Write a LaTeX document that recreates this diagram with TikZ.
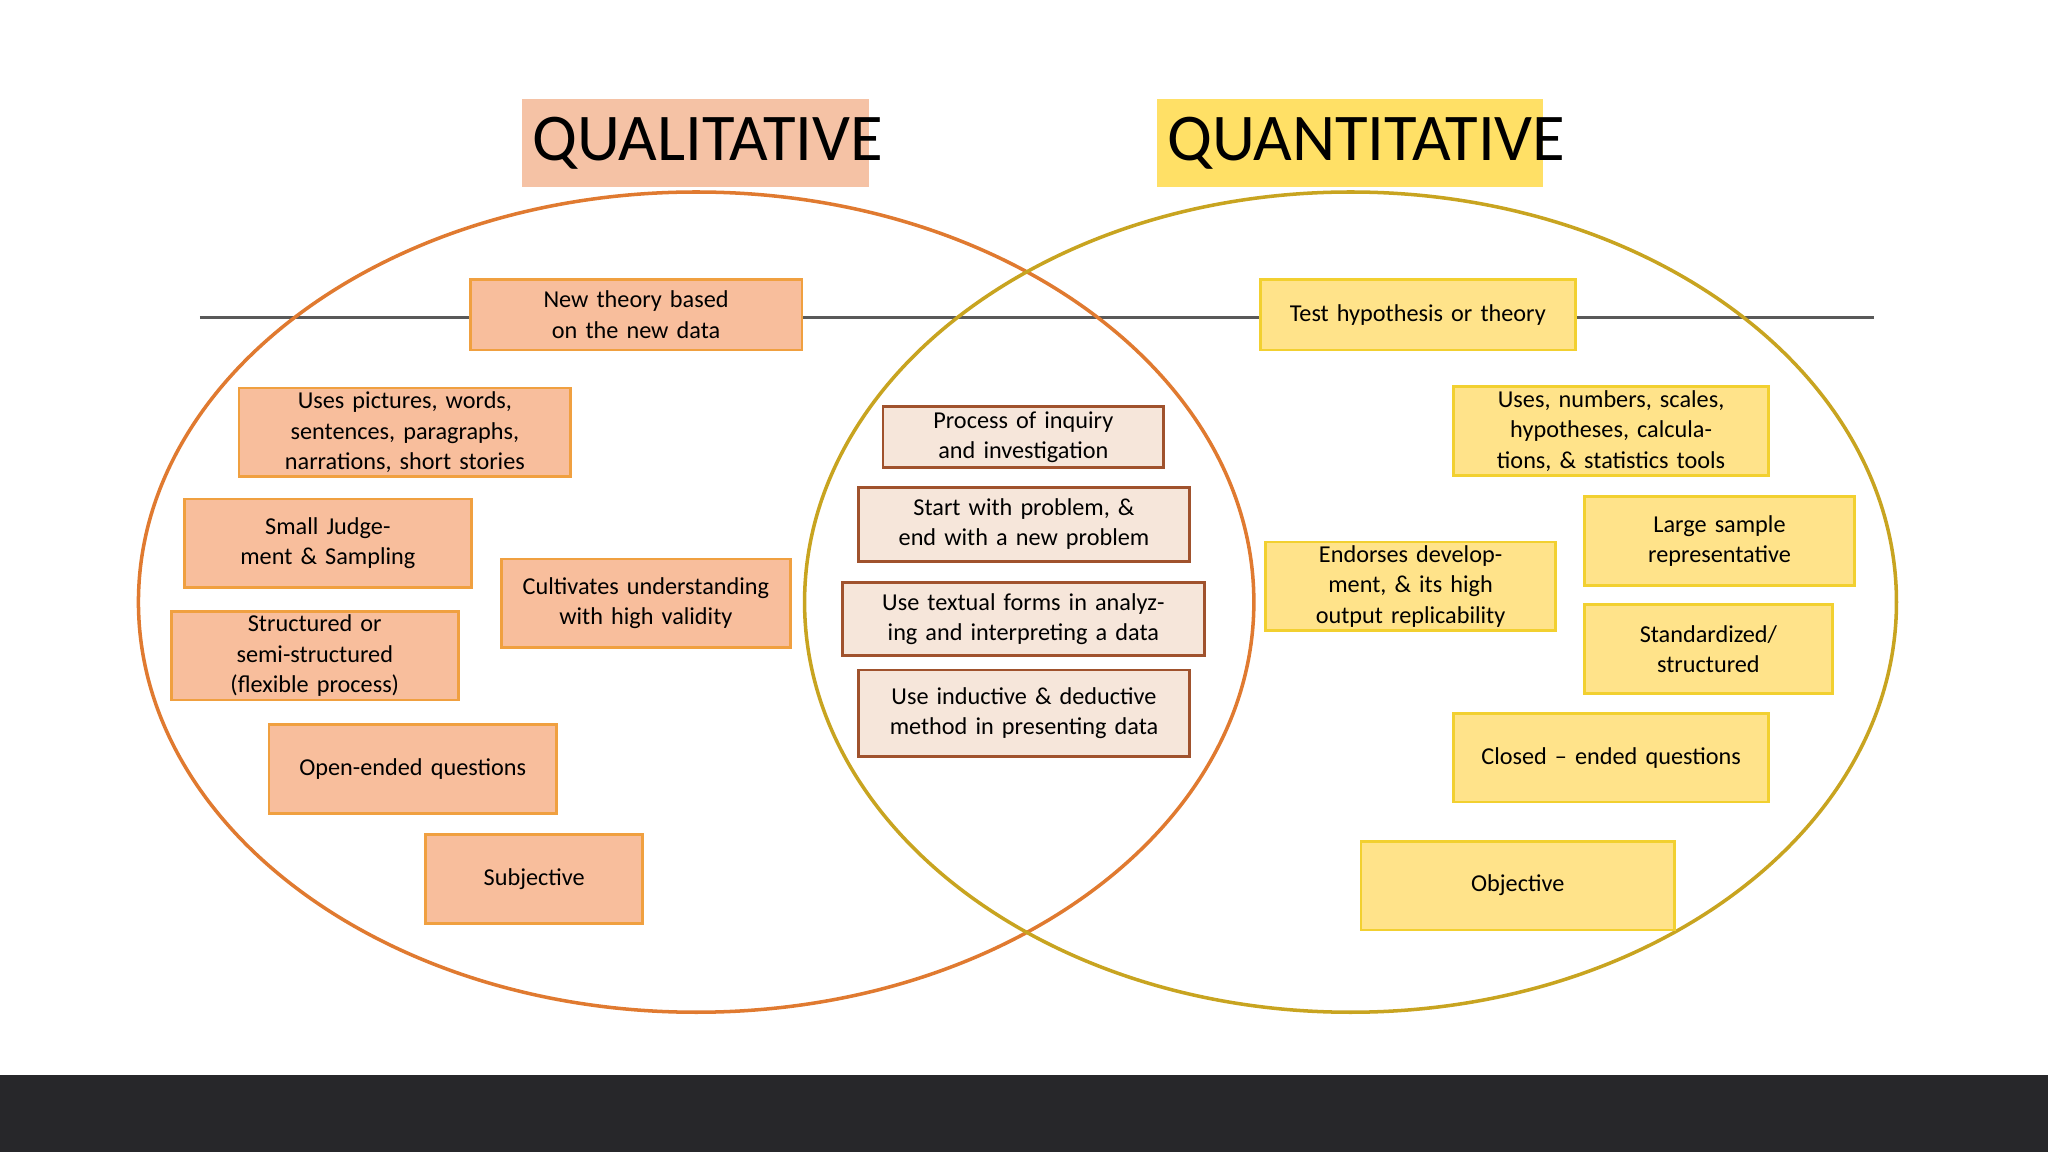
\documentclass[tikz,border=0pt]{standalone}
\usepackage{fontspec}
\setmainfont{Carlito}
\definecolor{qlfill}{HTML}{F8BE9C}
\definecolor{qlborder}{HTML}{F0A040}
\definecolor{midfill}{HTML}{F6E6DA}
\definecolor{midborder}{HTML}{A0522D}
\definecolor{qnfill}{HTML}{FFE38A}
\definecolor{qnborder}{HTML}{F2D030}
\definecolor{lell}{HTML}{E07A30}
\definecolor{rell}{HTML}{C8A420}
\definecolor{tlfill}{HTML}{F5C2A5}
\definecolor{tqfill}{HTML}{FFE066}
\definecolor{barc}{HTML}{27272A}
\newcommand{\bx}[7]{\node[#2, minimum width={(#5-#3)*0.013061cm}, minimum height={(#6-#4)*0.013061cm}, text width={(#5-#3)*0.013061cm-0.2cm}] (#1) at ({(#3+#5)/2},{(#4+#6)/2}) {#7};}
\tikzset{
 base/.style={draw, line width=0.8pt, align=center, inner sep=1pt, font=\fontsize{6.9pt}{8.6pt}\selectfont},
 lbox/.style={base, fill=qlfill, draw=qlborder},
 mbox/.style={base, fill=midfill, draw=midborder},
 rbox/.style={base, fill=qnfill, draw=qnborder},
 title/.style={inner sep=0pt, align=center, font=\fontsize{19pt}{20pt}\selectfont, text=black}
}
\begin{document}
\begin{tikzpicture}[x=0.013061cm,y=-0.013061cm]
\useasboundingbox (0,0) rectangle (1568,882);
\fill[white] (0,0) rectangle (1568,882);
\fill[barc] (0,823) rectangle (1568,882);
\draw[gray!70!black, line width=0.7pt] (153,243) coordinate (la) -- (1435,243) coordinate (lb);
\draw[lell, line width=1pt] (533,461) ellipse [x radius=427, y radius=314];
\draw[rell, line width=1pt] (1034,461) ellipse [x radius=418, y radius=314];
\bx{tql}{title, fill=tlfill}{400}{76}{665}{143}{QUALITATIVE}
\bx{tqn}{title, fill=tqfill}{886}{76}{1181}{143}{QUANTITATIVE}
\bx{l1}{lbox}{360}{214}{614}{268}{New theory based on the new data}
\bx{l2}{lbox}{183}{297}{437}{365}{Uses pictures, words, sentences, paragraphs, narrations, short stories}
\bx{l3}{lbox}{141}{382}{361}{450}{Small Judgement \& Sampling}
\bx{l4}{lbox}{384}{428}{605}{496}{Cultivates understanding with high validity}
\bx{l5}{lbox}{131}{468}{351}{536}{Structured or semi-structured (flexible process)}
\bx{l6}{lbox}{206}{555}{426}{623}{Open-ended questions}
\bx{l7}{lbox}{326}{639}{492}{707}{Subjective}
\bx{m1}{mbox}{676}{311}{891}{358}{Process of inquiry and investigation}
\bx{m2}{mbox}{657}{373}{911}{430}{Start with problem, \& end with a new problem}
\bx{m3}{mbox}{645}{446}{922}{502}{Use textual forms in analyzing and interpreting a data}
\bx{m4}{mbox}{657}{513}{911}{579}{Use inductive \& deductive method in presenting data}
\bx{r1}{rbox}{965}{214}{1206}{268}{Test hypothesis or theory}
\bx{r2}{rbox}{1113}{296}{1354}{364}{Uses, numbers, scales, hypotheses, calculations, \& statistics tools}
\bx{r3}{rbox}{1213}{380}{1420}{448}{Large sample representative}
\bx{r4}{rbox}{969}{415}{1191}{483}{Endorses development, \& its high output replicability}
\bx{r5}{rbox}{1213}{463}{1403}{531}{Standardized/ structured}
\bx{r6}{rbox}{1113}{546}{1354}{614}{Closed -- ended questions}
\bx{r7}{rbox}{1042}{644}{1282}{712}{Objective}
\end{tikzpicture}
\end{document}
